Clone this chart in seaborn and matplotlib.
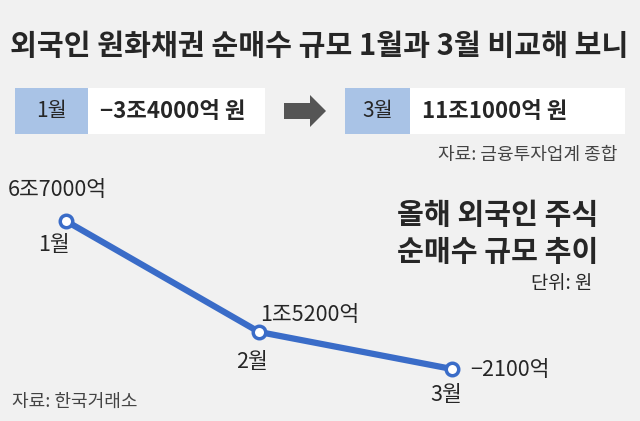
import matplotlib
matplotlib.use('Agg')
import matplotlib.pyplot as plt
from matplotlib.patches import Rectangle, FancyArrow
import seaborn as sns
import pandas as pd

months = ["1월", "2월", "3월"]
values = [67000, 15200, -2100]  # 억 원
value_labels = ["6조7000억", "1조5200억", "−2100억"]
compare_months = ["1월", "3월"]
compare_labels = ["−3조4000억 원", "11조1000억 원"]

sns.set_style("white")
plt.rcParams['font.family'] = ['Noto Sans CJK KR', 'DejaVu Sans']

W, H = 640, 421
BG = "#f1f1f1"
BLUE = "#3a6cc8"
BOX = "#a9c3e6"

fig = plt.figure(figsize=(6.4, 4.21), dpi=100, facecolor=BG)

def fx(x): return x / W
def fy(y): return 1 - y / H

fig.text(fx(10), fy(46), "외국인 원화채권 순매수 규모 1월과 3월 비교해 보니",
         fontsize=21, fontweight='bold', va='center', ha='left')

# comparison boxes
for (bx, bw, wx, ww), m, lab in zip([(15, 73, 88, 177), (345, 65, 410, 215)],
                                    compare_months, compare_labels):
    fig.patches.append(Rectangle((fx(bx), fy(134)), bw / W, 46 / H,
                                 transform=fig.transFigure, color=BOX, lw=0))
    fig.patches.append(Rectangle((fx(wx), fy(134)), ww / W, 46 / H,
                                 transform=fig.transFigure, color="white", lw=0))
    fig.text(fx(bx + bw / 2), fy(111), m, fontsize=15, ha='center', va='center')
    fig.text(fx(wx + 12), fy(111), lab, fontsize=16, fontweight='bold',
             ha='left', va='center')

fig.patches.append(FancyArrow(fx(284), fy(111), 26 / W, 0, width=16 / H,
                              head_width=32 / H, head_length=16 / W,
                              transform=fig.transFigure, color="#555555", lw=0,
                              length_includes_head=False))

fig.text(fx(617), fy(155), "자료: 금융투자업계 종합", fontsize=13,
         color="#444444", ha='right', va='center')
fig.text(fx(598), fy(215), "올해 외국인 주식", fontsize=21, fontweight='bold',
         ha='right', va='center')
fig.text(fx(598), fy(252), "순매수 규모 추이", fontsize=21, fontweight='bold',
         ha='right', va='center')
fig.text(fx(592), fy(283), "단위: 원", fontsize=13.5, ha='right', va='center')
fig.text(fx(12), fy(402), "자료: 한국거래소", fontsize=13, color="#444444",
         ha='left', va='center')

# line chart
ax = fig.add_axes([fx(66), 52 / H, (452 - 66) / W, 148 / H])
ax.set_facecolor('none')
df = pd.DataFrame({"x": [1, 2, 3], "v": values})
sns.lineplot(data=df, x="x", y="v", ax=ax, color=BLUE, lw=4.5, marker='o',
             markersize=9, markerfacecolor='white', markeredgecolor=BLUE,
             markeredgewidth=2.5, clip_on=False)
ax.set_xlim(1, 3)
ax.set_ylim(-2100, 67000)
ax.axis('off')

lab_pos = [((8, 190), (38, 245)), ((260, 315), (236, 362)), ((470, 370), (430, 395))]
for (vp, mp), vl, m in zip(lab_pos, value_labels, months):
    fig.text(fx(vp[0]), fy(vp[1]), vl, fontsize=15.5, ha='left', va='center')
    fig.text(fx(mp[0]), fy(mp[1]), m, fontsize=15.5, ha='left', va='center')

fig.savefig("out.png", dpi=100, facecolor=BG)
